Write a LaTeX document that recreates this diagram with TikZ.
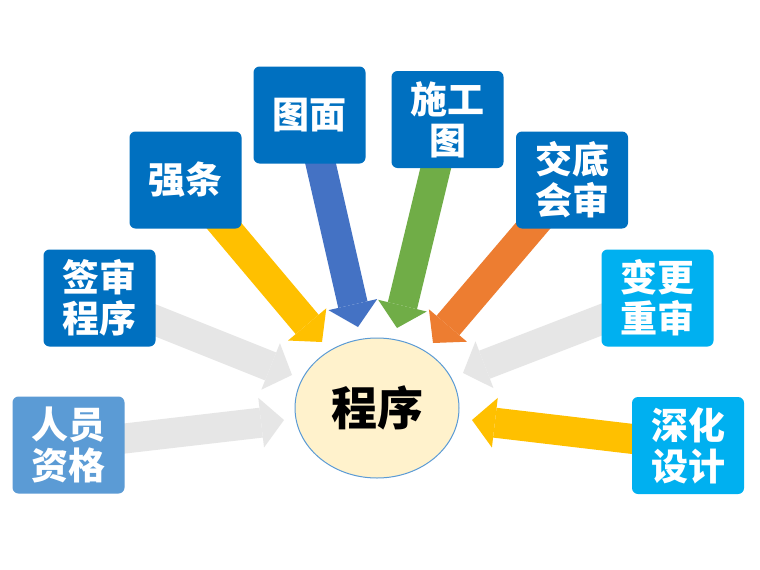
\documentclass[tikz,border=0pt]{standalone}
\usepackage{fontspec}
\newfontfamily\cjk{Noto Sans CJK SC}
\usetikzlibrary{arrows.meta,shapes.geometric,backgrounds}
\definecolor{boxdark}{HTML}{0070C0}
\definecolor{boxmid}{HTML}{5B9BD5}
\definecolor{boxlight}{HTML}{00B0F0}
\definecolor{arrgrey}{HTML}{E6E6E6}
\definecolor{arryellow}{HTML}{FFC000}
\definecolor{arrblue}{HTML}{4472C4}
\definecolor{arrgreen}{HTML}{70AD47}
\definecolor{arrorange}{HTML}{ED7D31}
\definecolor{ellfill}{HTML}{FFF2CC}
\definecolor{ellline}{HTML}{5B9BD5}
\begin{document}
\begin{tikzpicture}[x=1pt,y=-1pt,
  box/.style={rectangle,rounded corners=6pt,minimum width=112pt,minimum height=97pt,
    inner sep=0pt,text=white,align=center,
    font=\cjk\bfseries\fontsize{37}{41}\selectfont},
  blockarrow/.style={line width=30pt,-{Triangle[length=23pt,width=50pt,line width=0pt]}},
]
\useasboundingbox (0,0) rectangle (760,570);

% centre
\node[ellipse,draw=ellline,line width=1pt,fill=ellfill,minimum width=164pt,minimum height=140pt,
  inner sep=0pt,font=\cjk\bfseries\fontsize{46}{50}\selectfont] (c) at (377,408) {程序};

% boxes
\node[box,fill=boxmid]   (b1) at (68.5,445)  {人员\\资格};
\node[box,fill=boxdark]  (b2) at (99.5,298)  {签审\\程序};
\node[box,fill=boxdark]  (b3) at (185.5,180) {强条};
\node[box,fill=boxdark]  (b4) at (309.5,115) {图面};
\node[box,fill=boxdark]  (b5) at (447.5,119.5) {施工\\图};
\node[box,fill=boxdark]  (b6) at (572,180)   {交底\\会审};
\node[box,fill=boxlight] (b7) at (657.5,298) {变更\\重审};
\node[box,fill=boxlight] (b8) at (688,445.5) {深化\\设计};

% arrow tips
\coordinate (t1) at (284,420);
\coordinate (t2) at (292,375);
\coordinate (t3) at (322,342);
\coordinate (t4) at (358,327);
\coordinate (t5) at (397,328);
\coordinate (t6) at (433,343);
\coordinate (t7) at (463,373);
\coordinate (t8) at (472,420);

\begin{pgfonlayer}{background}
\fill[white] (0,0) rectangle (760,570);
\draw[blockarrow,arrgrey]   (b1.center) -- (t1);
\draw[blockarrow,arrgrey]   (b2.center) -- (t2);
\draw[blockarrow,arryellow] (b3.center) -- (t3);
\draw[blockarrow,arrblue]   (b4.center) -- (t4);
\draw[blockarrow,arrgreen]  (b5.center) -- (t5);
\draw[blockarrow,arrorange] (b6.center) -- (t6);
\draw[blockarrow,arrgrey]   (b7.center) -- (t7);
\draw[blockarrow,arryellow] (b8.center) -- (t8);
\end{pgfonlayer}
\end{tikzpicture}
\end{document}
